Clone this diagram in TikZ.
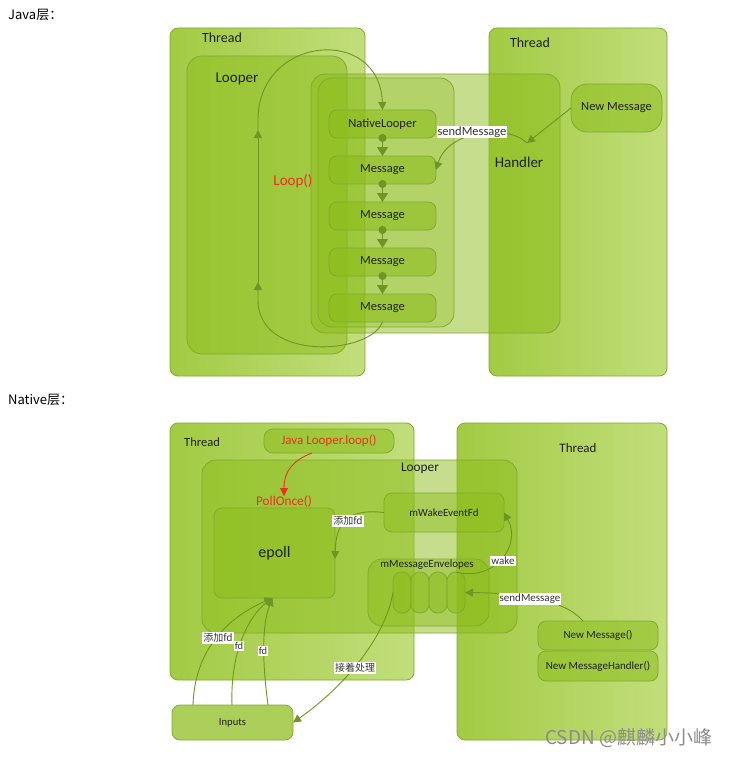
\documentclass[tikz,border=0pt]{standalone}
\usepackage{fontspec}
\setmainfont{Carlito}
\newfontfamily\cjk{Noto Sans CJK SC}
\usetikzlibrary{arrows.meta}
\definecolor{thrL}{HTML}{A2CB43}
\definecolor{thrR}{HTML}{C2DE7C}
\definecolor{gfill}{HTML}{8CBD1A}
\definecolor{gline}{HTML}{82AA30}
\definecolor{connc}{HTML}{6E9624}
\definecolor{redt}{HTML}{E8321E}
\tikzset{
  thread/.style={draw=gline, line width=0.8pt, rounded corners=8pt, left color=thrL, right color=thrR, inner sep=0pt, outer sep=0pt},
  layer/.style={draw=gline, line width=0.8pt, fill=gfill, fill opacity=0.5, text opacity=1, rounded corners=14pt, inner sep=0pt, outer sep=0pt},
  item/.style={draw=gline, line width=0.8pt, fill=gfill, fill opacity=0.55, text opacity=1, rounded corners=8pt, inner sep=0pt, outer sep=0pt, text=black!88},
  conn/.style={draw=connc, line width=0.9pt},
  arr/.style={-{Triangle[length=8pt,width=8pt]}},
  dotarr/.style={{Circle[length=8pt]}-{Triangle[length=9pt,width=11pt]}, shorten <=-4pt},
  redarr/.style={draw=redt, line width=0.9pt, -{Triangle[length=8pt,width=8pt]}},
  lab/.style={fill=white, inner sep=1pt, text=black!80},
  ttl/.style={text=black!88, inner sep=0pt},
}
\begin{document}
\begin{tikzpicture}[x=1pt,y=-1pt]
\useasboundingbox (0,0) rectangle (733,757);
\fill[white] (0,0) rectangle (733,757);

% ---------------- Java layer ----------------
\node[anchor=west, inner sep=0pt, font=\cjk\fontsize{13}{15}\selectfont] (javat) at (8,15) {Java层：};

\node[thread, minimum width=195pt, minimum height=348pt] (jtl) at (267.5,202) {};
\node[thread, minimum width=178pt, minimum height=348pt] (jtr) at (578,202) {};
\node[ttl, font=\fontsize{14}{16}\selectfont] (jtlt) at (222,38) {Thread};
\node[ttl, font=\fontsize{14}{16}\selectfont] (jtrt) at (530,43) {Thread};

\node[layer, rounded corners=15pt, minimum width=160pt, minimum height=298pt] (jlooper) at (267,205) {};
\node[ttl, font=\fontsize{15}{17}\selectfont] (jloopert) at (237,79) {Looper};

\node[layer, minimum width=249pt, minimum height=259pt] (handler) at (435.5,203.5) {};
\node[layer, fill opacity=0.3, minimum width=136pt, minimum height=249pt] (queue) at (386,202.5) {};
\node[ttl, font=\fontsize{15}{17}\selectfont] (handlert) at (519,162) {Handler};

\node[item, minimum width=107pt, minimum height=28pt, font=\fontsize{12.5}{14}\selectfont] (nl) at (382.5,124) {NativeLooper};
\node[item, minimum width=107pt, minimum height=28pt, font=\fontsize{12.5}{14}\selectfont] (m1) at (382.5,170) {Message};
\node[item, minimum width=107pt, minimum height=28pt, font=\fontsize{12.5}{14}\selectfont] (m2) at (382.5,216) {Message};
\node[item, minimum width=107pt, minimum height=28pt, font=\fontsize{12.5}{14}\selectfont] (m3) at (382.5,262) {Message};
\node[item, minimum width=107pt, minimum height=28pt, font=\fontsize{12.5}{14}\selectfont] (m4) at (382.5,308) {Message};

\node[item, rounded corners=16pt, minimum width=91pt, minimum height=48pt, font=\fontsize{12.5}{14}\selectfont] (newmsg) at (616.5,108) {New Message};

\draw[conn, dotarr] (nl.south) -- (m1.north);
\draw[conn, dotarr] (m1.south) -- (m2.north);
\draw[conn, dotarr] (m2.south) -- (m3.north);
\draw[conn, dotarr] (m3.south) -- (m4.north);

\coordinate (lpA) at (258,300);
\coordinate (lpB) at (258,282);
\coordinate (lpC) at (258,130);
\coordinate (lpD) at (258,120);
\draw[conn, arr] (m4.south) .. controls (370,355) and (258,362) .. (lpA) -- (lpB);
\draw[conn, arr] (lpB) -- (lpC);
\draw[conn, arr] (lpC) -- (lpD) .. controls (258,35) and (380,25) .. (nl.north);
\node[text=redt, inner sep=0pt, font=\fontsize{15}{17}\selectfont] (loopt) at (293,181) {Loop()};

\coordinate (hm) at (527,143);
\draw[conn, arr] (newmsg.west) -- (hm);
\draw[conn, arr] (hm) .. controls (508,124) and (448,130) .. (m1.east);
\node[lab, font=\fontsize{12.5}{14}\selectfont] (jsend) at (472,132) {sendMessage};

% ---------------- Native layer ----------------
\node[anchor=west, inner sep=0pt, font=\cjk\fontsize{13}{15}\selectfont] (nativet) at (8,400) {Native层：};

\node[thread, minimum width=244pt, minimum height=257pt] (ntl) at (292,551.5) {};
\node[thread, minimum width=210pt, minimum height=317pt] (ntr) at (562,581.5) {};
\node[ttl, font=\fontsize{12.5}{14}\selectfont] (ntlt) at (202,442) {Thread};
\node[ttl, font=\fontsize{13}{15}\selectfont] (ntrt) at (578,448) {Thread};

\node[item, rounded corners=9pt, minimum width=130pt, minimum height=24pt, text=redt, font=\fontsize{13}{15}\selectfont] (jll) at (329,441) {Java Looper.loop()};

\node[layer, minimum width=315pt, minimum height=173pt] (nlooper) at (359.5,546.5) {};
\node[ttl, font=\fontsize{13.3}{15}\selectfont] (nloopert) at (420,468) {Looper};

\node[item, fill opacity=0.45, minimum width=121pt, minimum height=90pt, font=\fontsize{16}{18}\selectfont] (epoll) at (274.5,553) {epoll};
\node[text=redt, inner sep=0pt, font=\fontsize{13.3}{15}\selectfont] (poll) at (284,502) {PollOnce()};
\node[item, fill opacity=0.45, minimum width=120pt, minimum height=39pt, font=\fontsize{11}{13}\selectfont] (wakefd) at (444,512.5) {mWakeEventFd};
\node[item, fill opacity=0.45, rounded corners=14pt, minimum width=121pt, minimum height=67pt] (env) at (428.5,592.5) {};
\node[ttl, font=\fontsize{11}{13}\selectfont] (envt) at (427,565) {mMessageEnvelopes};
\node[item, rounded corners=8.5pt, minimum width=18pt, minimum height=41pt] (p1) at (402,592.5) {};
\node[item, rounded corners=8.5pt, minimum width=18pt, minimum height=41pt] (p2) at (420,592.5) {};
\node[item, rounded corners=8.5pt, minimum width=18pt, minimum height=41pt] (p3) at (438,592.5) {};
\node[item, rounded corners=8.5pt, minimum width=18pt, minimum height=41pt] (p4) at (456,592.5) {};

\node[item, minimum width=120pt, minimum height=29pt, font=\fontsize{11}{13}\selectfont] (nm) at (598,635.5) {New Message()};
\node[item, minimum width=120pt, minimum height=30pt, font=\fontsize{11}{13}\selectfont] (nmh) at (598,666) {New MessageHandler()};
\node[item, fill opacity=0.72, minimum width=121pt, minimum height=35pt, font=\fontsize{10.6}{12}\selectfont] (inputs) at (232.5,722.5) {Inputs};

\draw[redarr] ([xshift=-17pt]jll.south) .. controls (294,460) and (284,470) .. (poll.north);

\draw[conn, arr] (wakefd.west) .. controls (345,508) and (336,525) .. ([yshift=-6pt]epoll.east);
\node[lab, font=\cjk\fontsize{10}{12}\selectfont] (addfd1) at (348,521) {添加fd};

\draw[conn, arr] (p4.north) .. controls (495,582) and (522,545) .. (wakefd.east);
\node[lab, font=\fontsize{11}{13}\selectfont] (waket) at (503,561) {wake};

\draw[conn, arr] ([xshift=-15pt]nm.north) .. controls (565,600) and (520,593) .. (p4.east);
\node[lab, font=\fontsize{11}{13}\selectfont] (nsend) at (530,599) {sendMessage};

\coordinate (in1) at (193,705);
\coordinate (in2) at (232,705);
\coordinate (in3) at (268,705);
\draw[conn, arr] (in1) .. controls (195,640) and (240,612) .. ([xshift=-2pt]epoll.south);
\draw[conn, arr] (in2) .. controls (230,650) and (250,615) .. ([xshift=-2pt]epoll.south);
\draw[conn, arr] (in3) .. controls (262,660) and (262,625) .. ([xshift=-2pt]epoll.south);
\node[lab, font=\cjk\fontsize{10}{12}\selectfont] (addfd2) at (218,638) {添加fd};
\node[lab, font=\fontsize{10.5}{12}\selectfont] (fd1) at (239,646) {fd};
\node[lab, font=\fontsize{10.5}{12}\selectfont] (fd2) at (263,651) {fd};

\draw[conn, arr] (p1.west) .. controls (385,640) and (340,690) .. (inputs.east);
\node[lab, font=\cjk\fontsize{10}{12}\selectfont] (next) at (355,668) {接着处理};

\node[anchor=west, inner sep=0pt, text=black!45, font=\cjk\fontsize{19}{21}\selectfont] (wmk0) at (545,738) {CSDN @麒麟小小峰};
\end{tikzpicture}
\end{document}
